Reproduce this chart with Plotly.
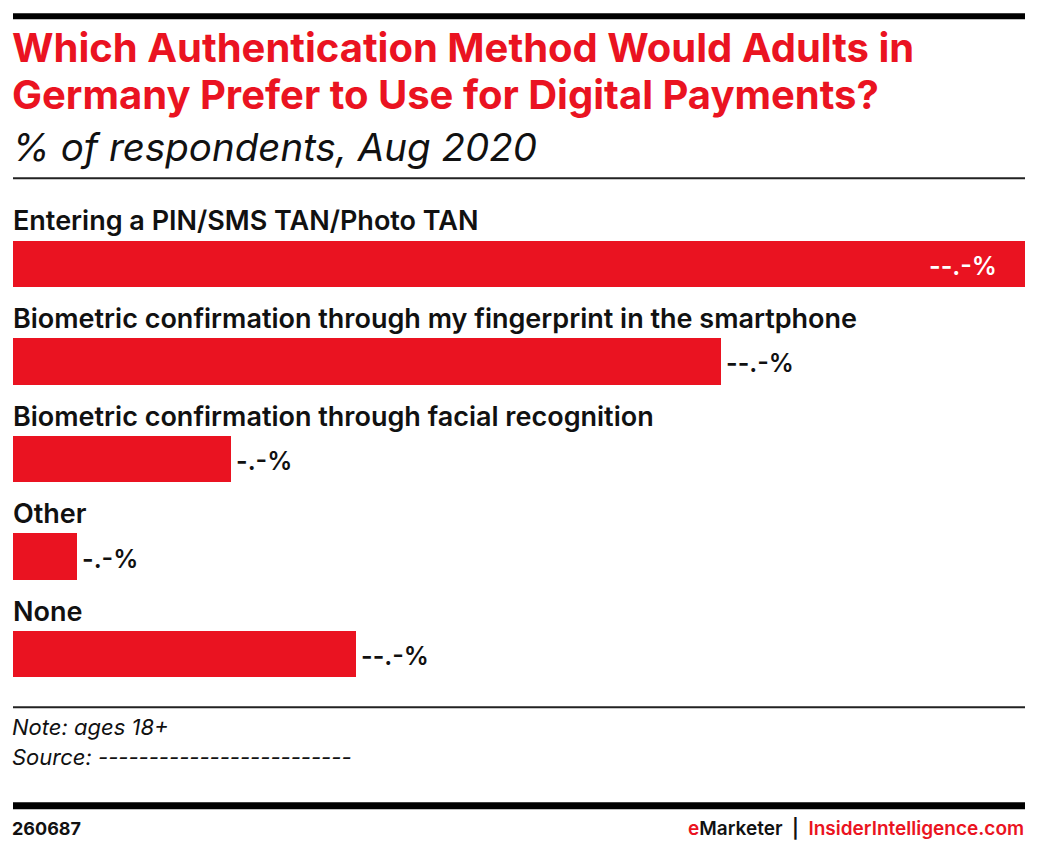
import plotly.graph_objects as go

categories = [
    "Entering a PIN/SMS TAN/Photo TAN",
    "Biometric confirmation through my fingerprint in the smartphone",
    "Biometric confirmation through facial recognition",
    "Other",
    "None",
]
values = [46.0, 32.2, 9.9, 2.9, 15.6]
value_labels = ["--.-%", "--.-%", "-.-%", "-.-%", "--.-%"]

RED = "#EA1321"
FONT = "Inter"
W, H = 1038, 851
L, R = 13, 1025
PT, PB = 214.7, 702.8

def px(x):
    return (x - L) / (R - L)

def py(y):
    return (PB - y) / (PB - PT)

fig = go.Figure()
fig.add_trace(go.Bar(
    x=values, y=categories, orientation="h",
    marker=dict(color=RED, line=dict(width=0)),
    width=0.476, hoverinfo="skip",
))

ann = []
for c in categories:
    ann.append(dict(x=0, y=c, xref="x", yref="y", text=c, showarrow=False,
                    xanchor="left", yanchor="middle", yshift=43, xshift=-2,
                    font=dict(family=FONT, size=27, color="#111", weight=600)))
for i, (v, t) in enumerate(zip(values, value_labels)):
    if i == 0:
        ann.append(dict(x=v, y=categories[i], xref="x", yref="y", text=t,
                        showarrow=False, xanchor="right", yanchor="middle",
                        xshift=-26, yshift=-2,
                        font=dict(family=FONT, size=25, color="white", weight=600)))
    else:
        ann.append(dict(x=v, y=categories[i], xref="x", yref="y", text=t,
                        showarrow=False, xanchor="left", yanchor="middle",
                        xshift=3, yshift=-2,
                        font=dict(family=FONT, size=25, color="#111", weight=600)))

def txt(text, x, y, size, color="#000", xanchor="left", weight=400, style="normal"):
    ann.append(dict(x=px(x), y=py(y), xref="paper", yref="paper", text=text,
                    showarrow=False, xanchor=xanchor, yanchor="middle",
                    font=dict(family=FONT, size=size, color=color, weight=weight, style=style)))

txt("Which Authentication Method Would Adults in", 10, 47, 40, RED, weight=700)
txt("Germany Prefer to Use for Digital Payments?", 10, 94, 40, RED, weight=700)
txt("% of respondents, Aug 2020", 10, 147, 38.5, "#111", style="italic")
txt("Note: ages 18+", 10, 727, 22, "#111", style="italic")
txt("Source: -------------------------", 10, 757, 22, "#111", style="italic")
txt("260687", 10, 828, 18, "#111", weight=700)
txt("<span style='color:%s'>e</span>Marketer  |  <span style='color:%s'>InsiderIntelligence.com</span>" % (RED, RED),
    1026, 828, 19, "#111", xanchor="right", weight=600)

shapes = [
    dict(type="rect", xref="paper", yref="paper", x0=px(13), x1=px(1025),
         y0=py(13), y1=py(19), fillcolor="#000", line=dict(width=0)),
    dict(type="rect", xref="paper", yref="paper", x0=px(13), x1=px(1025),
         y0=py(177), y1=py(179), fillcolor="#222", line=dict(width=0)),
    dict(type="rect", xref="paper", yref="paper", x0=px(13), x1=px(1025),
         y0=py(706), y1=py(708), fillcolor="#222", line=dict(width=0)),
    dict(type="rect", xref="paper", yref="paper", x0=px(13), x1=px(1025),
         y0=py(802), y1=py(809), fillcolor="#000", line=dict(width=0)),
]

fig.update_layout(
    width=W, height=H,
    margin=dict(l=L, r=W - R, t=PT, b=H - PB, pad=0),
    paper_bgcolor="white", plot_bgcolor="white",
    showlegend=False,
    xaxis=dict(range=[0, values[0]], visible=False, fixedrange=True),
    yaxis=dict(range=[4.5, -0.5], visible=False, fixedrange=True,
               categoryorder="array", categoryarray=categories),
    annotations=ann, shapes=shapes,
    bargap=0,
)

fig.write_html("out.html", config={"displayModeBar": False})
